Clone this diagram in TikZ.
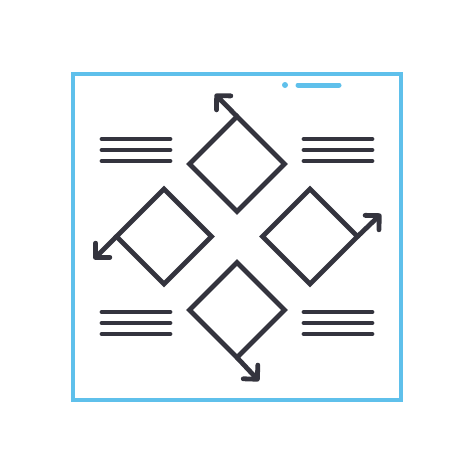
\documentclass[tikz,border=0pt]{standalone}
\usetikzlibrary{shapes.geometric,arrows.meta}
\definecolor{frameblue}{RGB}{95,192,235}
\definecolor{ink}{RGB}{52,52,62}
\begin{document}
\begin{tikzpicture}[x=1pt,y=-1pt]

  \tikzstyle{box} = [diamond, draw=ink, line width=4.8, minimum width=95, minimum height=95, inner sep=0, outer sep=0]
  \tikzstyle{outarrow} = [ink, line width=4.8, line cap=round, -{Straight Barb[length=10,width=20,round]}]
  \tikzstyle{textline} = [ink, line width=4.8, line cap=round]

  \useasboundingbox (0,0) rectangle (474,474);

  % frame
  \draw[frameblue, line width=4] (73,74) rectangle (401,400);
  \fill[frameblue] (285,85) circle (3);
  \draw[frameblue, line width=5, line cap=round] (298,85) -- (339,85);

  % diamonds
  \node[box] (dtop) at (237,164) {};
  \node[box] (dleft) at (164,236.5) {};
  \node[box] (dright) at (310,236.5) {};
  \node[box] (dbottom) at (237,310) {};

  \coordinate (tiptop) at (215,94);
  \coordinate (tipleft) at (94,259);
  \coordinate (tipright) at (381,214);
  \coordinate (tipbottom) at (259,381);

  \draw[outarrow] (dtop.north) -- (tiptop);
  \draw[outarrow] (dleft.west) -- (tipleft);
  \draw[outarrow] (dright.east) -- (tipright);
  \draw[outarrow] (dbottom.south) -- (tipbottom);

  % text lines
  \foreach \y in {139,150,161,312,323,334} {
    \draw[textline] (102,\y) -- (170,\y);
    \draw[textline] (304,\y) -- (372,\y);
  }

\end{tikzpicture}
\end{document}
